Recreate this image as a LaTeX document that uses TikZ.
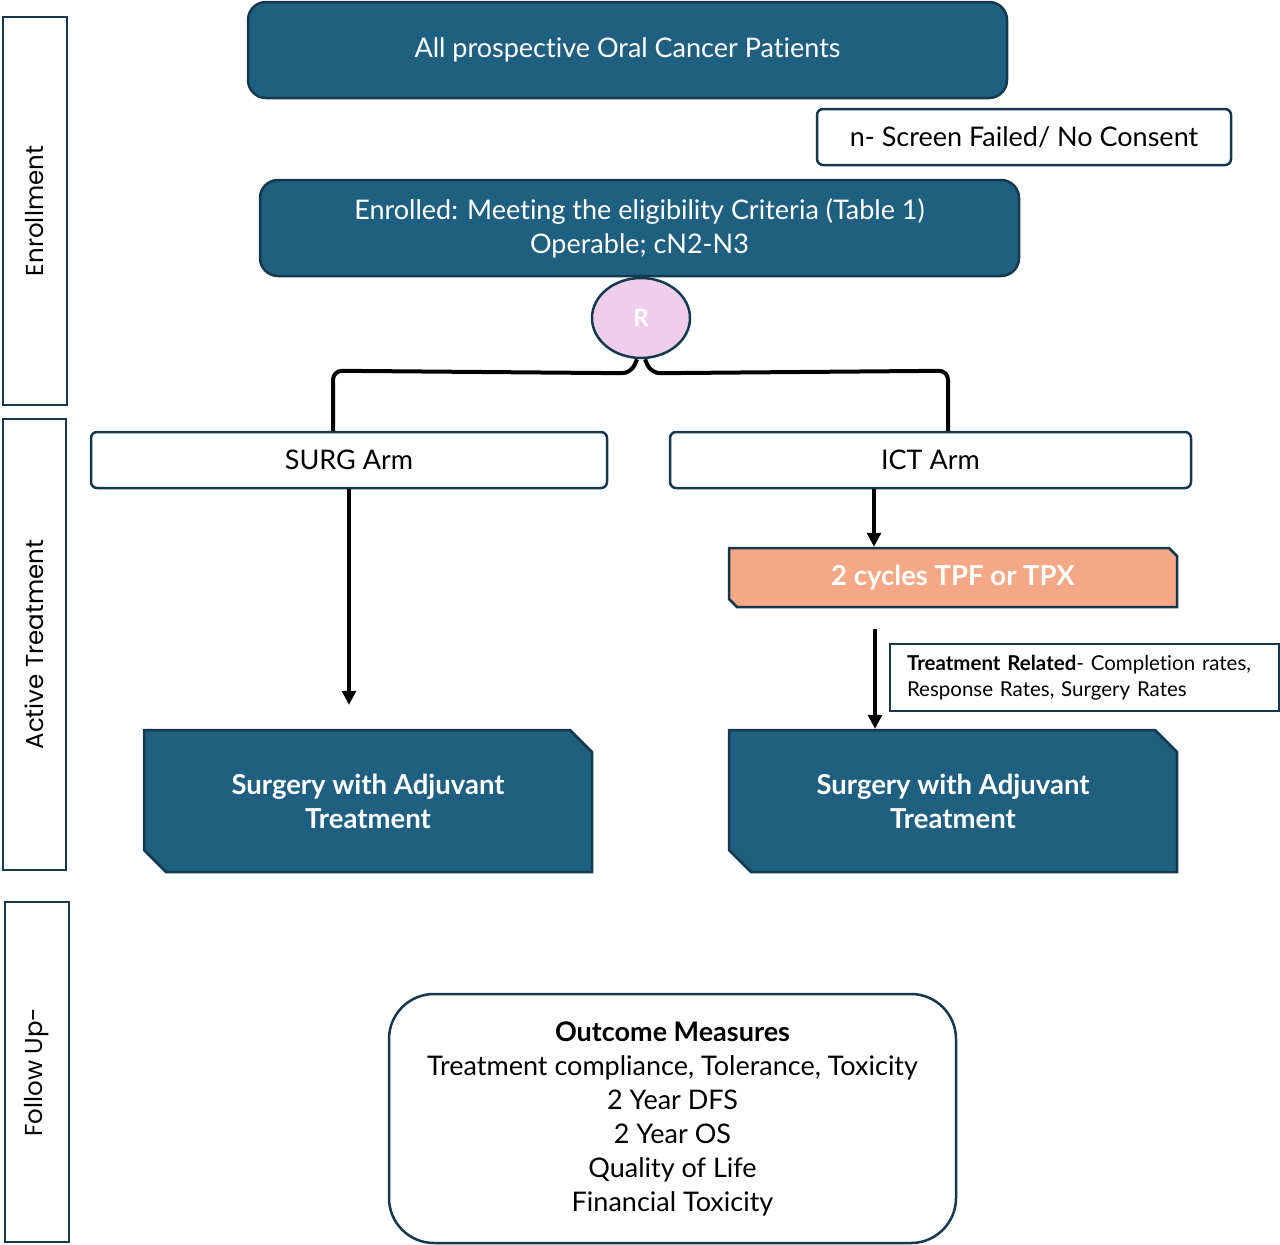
\documentclass[tikz,border=0pt]{standalone}
\usepackage{fontspec}
\setmainfont{Lato}[Ligatures=NoCommon]
\newfontfamily\sidefont{Poppins}
\usetikzlibrary{arrows.meta,shapes.misc,shapes.geometric}
\definecolor{boxblue}{HTML}{1F5F80}
\definecolor{boxline}{HTML}{14384D}
\definecolor{cycorange}{HTML}{F4A886}
\definecolor{rpink}{HTML}{F0CDEA}
\tikzset{
  blue box/.style={
    fill=boxblue,
    draw=boxline,
    line width=2.5pt,
    rounded corners=18pt,
    text=white,
    align=center,
    inner sep=0pt,
    font=\fontsize{27}{34}\selectfont,
  },
  white box/.style={
    fill=white,
    draw=boxline,
    line width=2.5pt,
    rounded corners=6pt,
    inner sep=0pt,
    font=\fontsize{27}{34}\selectfont,
  },
  side box/.style={
    draw=boxline,
    line width=2.5pt,
    inner sep=0pt,
  },
  side label/.style={
    rotate=90,
    font=\sidefont\fontsize{24.5}{28}\selectfont,
  },
  cut box/.style={
    chamfered rectangle,
    chamfered rectangle corners={north east,south west},
    chamfered rectangle xsep=#1,
    chamfered rectangle ysep=#1,
    draw=boxline,
    line width=2.5pt,
    text=white,
    align=center,
    inner sep=0pt,
    font=\bfseries\fontsize{27.5}{34}\selectfont,
  },
  arrow/.style={
    line width=3.2pt,
    -{Triangle[length=14pt,width=14pt]},
  },
  brace/.style={
    line width=4pt,
    rounded corners=9pt,
  },
}
\begin{document}
\begin{tikzpicture}[x=1pt,y=-1pt]
  \useasboundingbox (0,0) rectangle (1280,1245);

  % phases on the left
  \node [side box, minimum width=64pt, minimum height=388pt] (enr) at (35,211) {};
  \node [side label] (enrl) at (enr) {Enrollment};
  \node [side box, minimum width=63pt, minimum height=451pt] (act) at (34.5,644.5) {};
  \node [side label] (actl) at (act) {Active Treatment};
  \node [side box, minimum width=64pt, minimum height=340pt] (fol) at (37,1072) {};
  \node [side label] (foll) at (fol) {Follow Up-};

  % enrollment
  \node [blue box, minimum width=759pt, minimum height=96pt] (all) at (627.5,50) {All prospective Oral Cancer Patients};
  \node [white box, minimum width=414pt, minimum height=56pt] (fail) at (1024,137) {n- Screen Failed/ No Consent};
  \node [blue box, minimum width=759pt, minimum height=96pt] (enrolled) at (639.5,228)
    {Enrolled: Meeting the eligibility Criteria (Table 1)\\Operable; cN2-N3};
  \node [ellipse, fill=rpink, draw=boxline, line width=2.5pt, minimum width=98pt, minimum height=80pt,
    text=white, font=\bfseries\fontsize{24}{26}\selectfont] (R) at (641,318) {R};

  % arms
  \node [white box, minimum width=516pt, minimum height=56pt] (surg) at (349,460) {SURG Arm};
  \node [white box, minimum width=521pt, minimum height=56pt] (ict) at (930.5,460) {ICT Arm};
  \node [cut box=4pt, fill=cycorange, minimum width=448pt, minimum height=59pt] (tpf) at (953,577.5) {2 cycles TPF or TPX};
  \node [draw=boxline, line width=1.5pt, fill=white, minimum width=389pt, minimum height=67pt, inner sep=0pt,
    text width=355pt, align=left, font=\fontsize{20.5}{26}\selectfont] (rel) at (1084.5,677.5)
    {\textbf{Treatment Related}- Completion rates,\\Response Rates, Surgery Rates};
  \node [cut box=11pt, fill=boxblue, minimum width=448pt, minimum height=142pt] (surgl) at (368,801) {Surgery with Adjuvant\\Treatment};
  \node [cut box=11pt, fill=boxblue, minimum width=448pt, minimum height=142pt] (surgr) at (953,801) {Surgery with Adjuvant\\Treatment};

  % follow up
  \node [white box, rounded corners=45pt, minimum width=567pt, minimum height=249pt, align=center] (out) at (672.5,1118.5)
    {\textbf{Outcome Measures}\\Treatment compliance, Tolerance, Toxicity\\2 Year DFS\\2 Year OS\\Quality of Life\\Financial Toxicity};

  % connectors
  \draw [brace] ([xshift=-4pt]R.south) -- ++(-6,14) -- ([xshift=-16pt,yshift=60pt]surg.north) -- ([xshift=-16pt]surg.north);
  \draw [brace] ([xshift=4pt]R.south) -- ++(6,14) -- ([xshift=17.5pt,yshift=60pt]ict.north) -- ([xshift=17.5pt]ict.north);
  \draw [arrow, shorten >=24pt] (surg.south) -- (surg.south |- surgl.north);
  \draw [arrow] ([xshift=-56.5pt]ict.south) -- ([xshift=-56.5pt]ict.south |- tpf.north);
  \draw [arrow] ([xshift=-78pt,yshift=-21pt]tpf.south) -- ([xshift=-78pt]tpf.south |- surgr.north);
\end{tikzpicture}
\end{document}
